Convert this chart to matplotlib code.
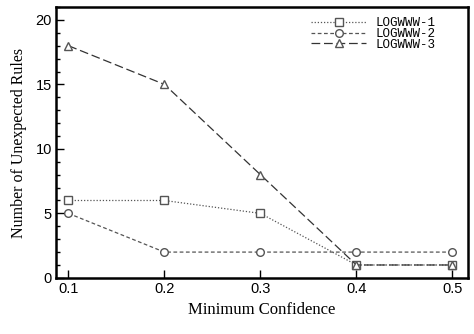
import matplotlib
matplotlib.use("Agg")
import matplotlib.pyplot as plt
from matplotlib.ticker import MultipleLocator

# data
min_conf = [0.1, 0.2, 0.3, 0.4, 0.5]
logwww_1 = [6, 6, 5, 1, 1]
logwww_2 = [5, 2, 2, 2, 2]
logwww_3 = [18, 15, 8, 1, 1]
series_names = ["LOGWWW-1", "LOGWWW-2", "LOGWWW-3"]

fig = plt.figure(figsize=(4.74, 3.34), dpi=100)
ax = fig.add_axes([0.118, 0.168, 0.869, 0.811])

gray = "#555555"
ax.plot(min_conf, logwww_1, linestyle=(0, (1, 1.5)), color=gray, linewidth=0.9,
        marker="s", markersize=5.5, markerfacecolor="white", markeredgecolor=gray,
        label=series_names[0])
ax.plot(min_conf, logwww_2, linestyle=(0, (3, 2)), color=gray, linewidth=0.9,
        marker="o", markersize=5.5, markerfacecolor="white", markeredgecolor=gray,
        label=series_names[1])
ax.plot(min_conf, logwww_3, linestyle=(0, (7, 3)), color="#333333", linewidth=0.9,
        marker="^", markersize=5.5, markerfacecolor="white", markeredgecolor=gray,
        label=series_names[2])

ax.set_xlim(0.087, 0.516)
ax.set_ylim(0, 21)
ax.set_xticks(min_conf)
ax.set_yticks([0, 5, 10, 15, 20])
ax.yaxis.set_minor_locator(MultipleLocator(1))
ax.tick_params(direction="in", which="both", labelsize=10.5, width=1, pad=3)
ax.tick_params(which="major", length=6)
ax.tick_params(which="minor", length=3)
ax.tick_params(axis="x", which="both", top=False)
ax.tick_params(axis="y", which="both", right=False)
for lab in ax.get_xticklabels() + ax.get_yticklabels():
    lab.set_family("Liberation Sans")
for sp in ax.spines.values():
    sp.set_linewidth(1.8)

ax.set_xlabel("Minimum Confidence", family="Liberation Serif", fontsize=12, labelpad=4)
ax.set_ylabel("Number of Unexpected Rules", family="Liberation Serif", fontsize=11.5, labelpad=6)

leg = ax.legend(loc="upper left", bbox_to_anchor=(0.62, 0.962), frameon=False,
                prop={"family": "Liberation Mono", "size": 9},
                handlelength=4.4, handletextpad=0.7, labelspacing=-0.1,
                borderpad=0, borderaxespad=0)

fig.savefig("out.png", dpi=100)
